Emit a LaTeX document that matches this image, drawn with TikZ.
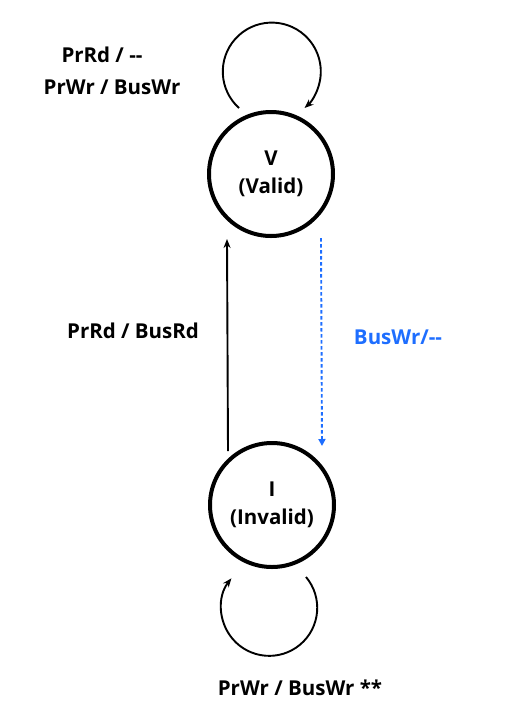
\documentclass[tikz,border=0pt]{standalone}
\usepackage{fontspec}
\setmainfont{Open Sans}
\usetikzlibrary{arrows.meta}
\definecolor{busblue}{RGB}{30,110,255}
\begin{document}
\begin{tikzpicture}[x=1pt,y=1pt,every node/.style={font=\bfseries\fontsize{20.5}{28}\selectfont},
  state/.style={circle,draw,line width=4pt,minimum size=124pt,align=center,inner sep=0pt},
  trans/.style={line width=1.9pt,-{Stealth[length=9pt,width=7pt]}}]
                \useasboundingbox (0,0) rectangle (519,-721);

                % States
                \node[state] (V) at (271,-174) {V\\(Valid)};
                \node[state] (I) at (272,-505) {I\\(Invalid)};

                % Self loops
                \draw[trans] ([xshift=-32pt,yshift=2pt]V.north) arc[start angle=228,end angle=-48,radius=49];
                \draw[trans] ([xshift=34pt,yshift=-8pt]I.south) arc[start angle=40,end angle=-218,radius=48];

                % Transitions between V and I
                \draw[trans] ([xshift=-44pt,yshift=-10pt]I.north) -- ([xshift=-44pt,yshift=-1pt]V.south);
                \draw[trans,busblue,dash pattern=on 3.5pt off 2.5pt,-{Triangle[length=7pt,width=7pt]}] ([xshift=50pt]V.south) -- ([xshift=50pt,yshift=-5pt]I.north);

                % Labels
                \node (vloopa) at (102,-55) {PrRd / {-}{-}};
                \node (vloopb) at (112,-87) {PrWr / BusWr};
                \node (up) at (133,-331) {PrRd / BusRd};
                \node[text=busblue] (down) at (398,-337) {BusWr/{-}{-}};
                \node (iloop) at (300,-688) {PrWr / BusWr **};

            \end{tikzpicture}
\end{document}
